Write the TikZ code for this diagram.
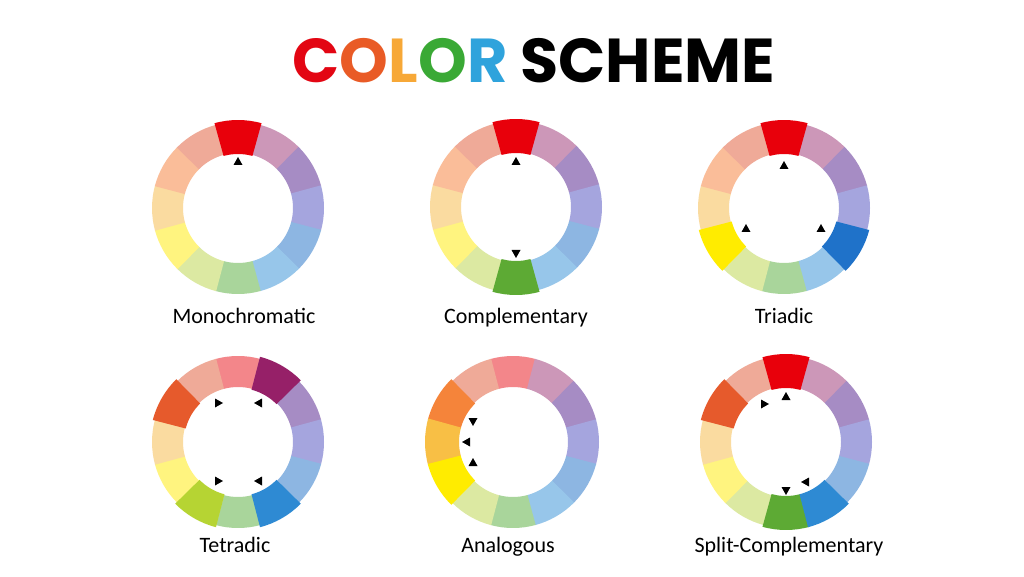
\documentclass[tikz,border=0pt]{standalone}
\usepackage{fontspec}
\setmainfont{Carlito}
\newfontfamily\titlefont{Poppins}
\definecolor{m0}{HTML}{F3868A}
\definecolor{m1}{HTML}{CC97B8}
\definecolor{m2}{HTML}{A68CC4}
\definecolor{m3}{HTML}{A5A5DE}
\definecolor{m4}{HTML}{8DB6E2}
\definecolor{m5}{HTML}{97C6EA}
\definecolor{m6}{HTML}{A9D59B}
\definecolor{m7}{HTML}{DCE9A2}
\definecolor{m8}{HTML}{FFF47F}
\definecolor{m9}{HTML}{FADBA0}
\definecolor{m10}{HTML}{FABD99}
\definecolor{m11}{HTML}{EFAA98}
\definecolor{hred}{HTML}{E8000B}
\definecolor{hmag}{HTML}{962068}
\definecolor{hdblue}{HTML}{1F72C9}
\definecolor{hblue}{HTML}{2E8AD3}
\definecolor{hgreen}{HTML}{5DAA34}
\definecolor{hyg}{HTML}{B6D433}
\definecolor{hyel}{HTML}{FFEC00}
\definecolor{hgold}{HTML}{F8BF45}
\definecolor{horange}{HTML}{F5843A}
\definecolor{hored}{HTML}{E65A2C}
\definecolor{tC}{HTML}{E30613}
\definecolor{tO}{HTML}{E95B26}
\definecolor{tL}{HTML}{F7A837}
\definecolor{tG}{HTML}{3AA935}
\definecolor{tR}{HTML}{2FA3DC}
\newcommand\wseg[3]{%
  \fill[#2] ({#1-#3}:86pt) arc[start angle={#1-#3},end angle={#1+#3},radius=86pt]
    -- ({#1+#3}:55pt) arc[start angle={#1+#3},end angle={#1-#3},radius=55pt] -- cycle;}
\newcommand\hseg[2]{%
  \fill[#2] ({#1-15.5}:88pt) arc[start angle={#1-15.5},end angle={#1+15.5},radius=88pt]
    -- ({#1+15.5}:54pt) arc[start angle={#1+15.5},end angle={#1-15.5},radius=54pt] -- cycle;}
\newcommand\basewheel{%
  \foreach \a/\c in {90/m0,60/m1,30/m2,0/m3,-30/m4,-60/m5,-90/m6,-120/m7,-150/m8,180/m9,150/m10,120/m11}
    {\wseg{\a}{\c}{15.3}}}
% triangle marker: position, rotation (0 = pointing up)
\newcommand\tri[2]{\fill[black,shift={#1},rotate=#2] (0,5) -- (-4.5,-3) -- (4.5,-3) -- cycle;}
\tikzset{lbl/.style={font=\fontsize{22}{26}\selectfont,anchor=base,inner sep=0pt}}
\begin{document}
\begin{tikzpicture}[x=1pt,y=1pt]
\useasboundingbox (0,0) rectangle (1024,576);
\fill[white] (0,0) rectangle (1024,576);
% title
\node[anchor=base,inner sep=0pt] (title) at (534,493)
  {\titlefont\bfseries\fontsize{62}{70}\selectfont
   \textcolor{tC}{C}\textcolor{tO}{O}\textcolor{tL}{L}\textcolor{tG}{O}\textcolor{tR}{R} SCHEME};
% centres
\coordinate (w1) at (238,368);
\coordinate (w2) at (516,369);
\coordinate (w3) at (784,368);
\coordinate (w4) at (238,134);
\coordinate (w5) at (513,134);
\coordinate (w6) at (786,134);
% Monochromatic
\begin{scope}[shift={(w1)}]
  \basewheel
  \hseg{90}{hred}
  \tri{(0,46)}{0}
\end{scope}
% Complementary
\begin{scope}[shift={(w2)}]
  \basewheel
  \hseg{90}{hred}\hseg{-90}{hgreen}
  \tri{(0,45)}{0}\tri{(0,-46)}{180}
\end{scope}
% Triadic
\begin{scope}[shift={(w3)}]
  \basewheel
  \hseg{90}{hred}\hseg{-30}{hdblue}\hseg{-150}{hyel}
  \tri{(0,42)}{0}\tri{(-38,-21)}{0}\tri{(37,-21)}{0}
\end{scope}
% Tetradic
\begin{scope}[shift={(w4)}]
  \basewheel
  \hseg{150}{hored}\hseg{60}{hmag}\hseg{-60}{hblue}\hseg{-120}{hyg}
  \tri{(-20,39)}{-90}\tri{(21,39)}{90}\tri{(-20,-39)}{-90}\tri{(21,-39)}{90}
\end{scope}
% Analogous
\begin{scope}[shift={(w5)}]
  \basewheel
  \hseg{150}{horange}\hseg{180}{hgold}\hseg{-150}{hyel}
  \tri{(-40,21)}{180}\tri{(-46,0)}{90}\tri{(-40,-21)}{0}
\end{scope}
% Split-Complementary
\begin{scope}[shift={(w6)}]
  \basewheel
  \hseg{90}{hred}\hseg{150}{hored}\hseg{-90}{hgreen}\hseg{-60}{hblue}
  \tri{(-22,38)}{-90}\tri{(0,45)}{0}\tri{(0,-48)}{180}\tri{(20,-40)}{90}
\end{scope}
% labels
\node[lbl] (l1) at (244,253) {Monochromatic};
\node[lbl] (l2) at (516,253) {Complementary};
\node[lbl] (l3) at (784,253) {Triadic};
\node[lbl] (l4) at (235,24) {Tetradic};
\node[lbl] (l5) at (508,24) {Analogous};
\node[lbl] (l6) at (789,24) {Split-Complementary};
\end{tikzpicture}
\end{document}
